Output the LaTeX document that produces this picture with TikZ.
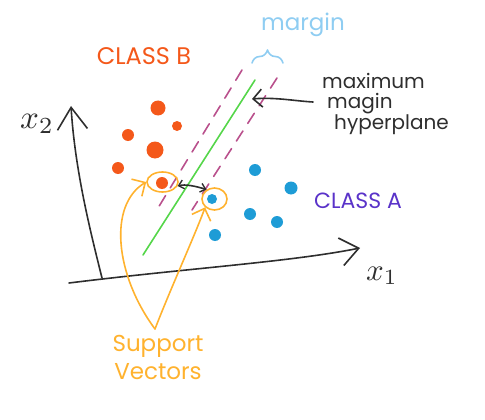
\documentclass[tikz,border=0pt]{standalone}
\usepackage{fontspec}
\setmainfont{Poppins}
\usetikzlibrary{arrows.meta,shapes.geometric,decorations.pathreplacing}
\definecolor{cB}{HTML}{F4581A}
\definecolor{cA}{HTML}{1E9CD6}
\definecolor{cG}{HTML}{55D64A}
\definecolor{cM}{HTML}{B9508C}
\definecolor{cO}{HTML}{FFB22E}
\definecolor{cL}{HTML}{8FCDF2}
\definecolor{cP}{HTML}{5A33C9}
\definecolor{cK}{HTML}{2E2E2E}
\tikzset{
  pen/.style={line width=1.6pt, line cap=round, line join=round},
  axis/.style={pen, cK},
  bdot/.style={circle, fill=cB, inner sep=0pt},
  adot/.style={circle, fill=cA, inner sep=0pt},
  ring/.style={ellipse, draw=cO, line width=1.6pt, inner sep=0pt},
  marginline/.style={pen, cM, dash pattern=on 12pt off 9pt},
  barb/.style={-{Straight Barb[length=#1, width=2*#1, line width=1.6pt]}},
  lbl/.style={inner sep=0pt, align=left},
}
\begin{document}
\begin{tikzpicture}[x=1pt,y=-1pt]
\useasboundingbox (0,0) rectangle (485,420);
% axes
\coordinate (o) at (102,278);
\coordinate (ytop) at (71,106);
\coordinate (xleft) at (69,283);
\coordinate (xtip) at (360,248);
\draw[axis, -{Straight Barb[length=22pt,width=30pt,line width=1.6pt]}] (o) .. controls (90,230) and (75,170) .. (ytop);
\draw[axis, -{Straight Barb[length=18pt,width=28pt,line width=1.6pt]}] (xleft) .. controls (190,268) and (290,262) .. (xtip);
\node[lbl, cK] (x2) at (37,124) {\scalebox{3.3}{$x_2$}};
\node[lbl, cK] (x1) at (382,276) {\scalebox{3.1}{$x_1$}};
% margin lines
\coordinate (l1) at (242,70); \coordinate (l2) at (158,208);
\coordinate (r1) at (277,78); \coordinate (r2) at (192,210);
\coordinate (g1) at (255,80); \coordinate (g2) at (143,255);
\draw[marginline] (l1) -- (l2);
\draw[marginline] (r1) -- (r2);
\draw[pen, cG] (g1) -- (g2);
% labels
\node[lbl, cB, font=\fontsize{24}{24}\selectfont] (classB) at (144,56) {CLASS B};
\node[lbl, cP, font=\fontsize{22}{22}\selectfont] (classA) at (358,201) {CLASS A};
\node[lbl, cL, font=\fontsize{23}{23}\selectfont] (margin) at (303,25) {margin};
\coordinate (bl) at (252,63); \coordinate (br) at (283,63);
\draw[pen, cL, decorate, decoration={brace, amplitude=13pt, aspect=0.5}] (bl) -- (br);
\node[lbl, cK, anchor=north west, font=\fontsize{20}{20}\selectfont] (mmh) at (322,73) {maximum\\\hspace*{5pt}magin\\\hspace*{12pt}hyperplane};
\coordinate (hp) at (252,99);
\coordinate (mms) at (313,102);
\draw[axis, barb=9pt] (mms) .. controls (295,101) and (275,97) .. (hp);
% class B dots
\node[bdot, minimum size=15pt] (b1) at (158,108) {};
\node[bdot, minimum size=10pt] (b2) at (177,126) {};
\node[bdot, minimum size=12pt] (b3) at (128,135) {};
\node[bdot, minimum size=17pt] (b4) at (155,150) {};
\node[bdot, minimum size=12pt] (b5) at (118,168) {};
\node[bdot, minimum size=12pt] (b6) at (162,183) {};
% class A dots
\node[adot, minimum size=12pt] (a1) at (255,170) {};
\node[adot, minimum size=13pt] (a2) at (291,188) {};
\node[adot, minimum size=10pt] (a3) at (212,199) {};
\node[adot, minimum size=12pt] (a4) at (250,214) {};
\node[adot, minimum size=12pt] (a5) at (277,222) {};
\node[adot, minimum size=12pt] (a6) at (215,235) {};
% support vector rings
\node[ring, minimum width=31pt, minimum height=20pt] (rB) at (162.5,182) {};
\node[ring, minimum width=25pt, minimum height=22pt] (rA) at (214.5,199) {};
\draw[axis, {Straight Barb[length=5pt,width=9pt,line width=1.4pt]}-{Straight Barb[length=5pt,width=9pt,line width=1.4pt]}] (rB.-15) .. controls (185,184) and (195,186) .. (rA.130);
% support vectors label
\node[lbl, cO, align=center, font=\fontsize{23}{28}\selectfont] (svt) at (158,357) {Support\\Vectors};
\coordinate (sv) at (155,329);
\draw[pen, cO, barb=10pt] (sv) .. controls (115,275) and (108,205) .. (rB.west);
\draw[pen, cO, barb=10pt] (sv) .. controls (170,290) and (195,235) .. (rA.south west);
\end{tikzpicture}
\end{document}
